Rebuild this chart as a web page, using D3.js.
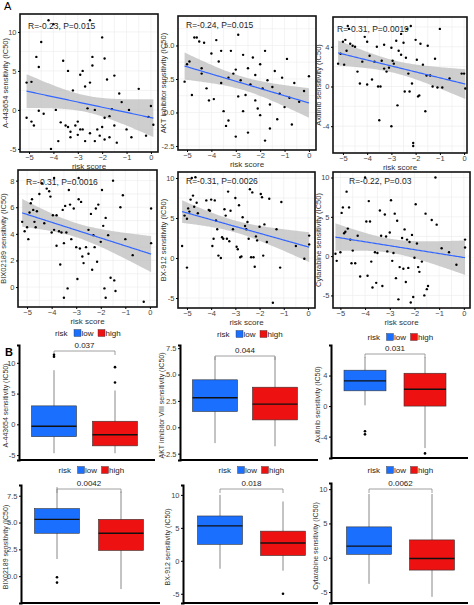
<!DOCTYPE html>
<html><head><meta charset="utf-8">
<script src="https://cdn.jsdelivr.net/npm/d3@7"></script>
<style>body{margin:0;background:#fff}svg{font-family:"Liberation Sans",Arial,sans-serif}</style>
</head><body><svg id="c" width="474" height="605"></svg>
<script>
// ---------- DATA ----------
const scatterDrugs = ["A-443654","AKT inhibitor","Axitinib","BIX02189","BX-912","Cytarabine"];
const scatterStats = ["R=-0.23, P=0.015","R=-0.24, P=0.015","R=-0.31, P=0.0019","R=-0.31, P=0.0016","R=-0.31, P=0.0026","R=-0.22, P=0.03"];
const xTicks = [-5,-4,-3,-2,-1,0];
const yTicksA = [[-5,0,5,10],[-2.5,0,2.5,5],[-4,0,4],[0,2,4,6,8],[-5,0,5,10],[-5,0,5,10]];
const ptsA1 = [[-5.1,3.5],[-4.9,3.6],[-5.1,-1],[-4.9,-1.5],[-4.8,-2],[-4.7,6.8],[-4.6,5.5],[-4.5,8.7],[-4.4,-0.5],[-4.6,-0.1],[-4.2,11.5],[-4,11],[-3.9,0],[-3.8,-4],[-4.1,-5],[-3.6,6.3],[-3.5,-2],[-3.4,5],[-3.4,-2.2],[-3.3,-2.8],[-3.3,-3.5],[-3.2,2.5],[-3.1,-2],[-3.0,-3.2],[-3.0,-1.5],[-2.9,4.5],[-2.8,5],[-2.8,-2.5],[-2.7,-4],[-2.7,3],[-2.6,0.2],[-2.5,11.5],[-2.5,3.5],[-2.5,-3],[-2.4,6.8],[-2.4,5.7],[-2.3,0],[-2.3,-4],[-2.2,-2.5],[-2.1,-3.3],[-2.0,9.3],[-2.0,-2.2],[-1.9,6.6],[-1.9,-1],[-1.8,3.9],[-1.7,-0.8],[-1.7,-3.5],[-1.6,0.1],[-1.5,4.4],[-1.5,-2],[-1.4,-4.2],[-1.3,2.1],[-1.2,1],[-1.0,-2.5],[-0.9,0],[-0.8,-3.5],[-0.5,2.7],[-0.2,-3.3],[0.0,0.5],[-3.7,-1.6],[-2.9,-2.5],[-1.9,-3.8],[-0.1,-0.9],[0.1,-1.9]];
const ptsA2 = [[-5.1,2.3],[-5.0,3.6],[-4.9,3.8],[-4.8,1.3],[-4.7,5.6],[-4.6,5.6],[-4.5,5.3],[-4.4,3.3],[-4.3,5.2],[-4.2,1.8],[-4.1,0.9],[-4.0,4.4],[-3.9,1],[-3.8,5.4],[-3.7,3.8],[-3.6,4.6],[-3.5,0.1],[-3.4,-1],[-3.3,2.6],[-3.3,-0.6],[-3.2,4.6],[-3.1,2.9],[-3.0,3.2],[-2.9,5.8],[-2.9,1.2],[-2.8,2.4],[-2.7,4.3],[-2.6,1.3],[-2.5,3.3],[-2.5,-1.5],[-2.4,2.1],[-2.3,4.1],[-2.2,0.9],[-2.2,2.8],[-2.1,0.3],[-2.0,3.6],[-2.0,-0.2],[-1.9,1.8],[-1.8,4.6],[-1.8,-2.1],[-1.7,2.4],[-1.6,0.6],[-1.5,1.9],[-1.4,3.1],[-1.3,-0.5],[-1.2,1.4],[-1.1,2.6],[-1.0,0.4],[-0.9,4.0],[-0.8,1.1],[-0.7,-0.9],[-0.6,2.2],[-0.4,0.8],[-0.2,1.6],[0.0,2.7],[-3.6,2.2],[-2.7,0.1],[-1.6,-1.2],[-4.4,2.9],[-3.0,-1.8]];
const ptsA3 = [[-5.2,2.3],[-5.1,3.3],[-5.0,4.5],[-4.95,2.2],[-4.9,4.7],[-4.85,3.6],[-4.8,6.1],[-4.75,5.8],[-4.7,4.3],[-4.6,4.1],[-4.5,4.0],[-4.4,1.5],[-4.3,0.3],[-4.2,2.5],[-4.1,5],[-4.0,0.2],[-4.0,4.5],[-3.9,3.1],[-3.8,0.7],[-3.7,2.5],[-3.6,4],[-3.55,0],[-3.5,-3.4],[-3.45,0],[-3.4,2.6],[-3.3,4.2],[-3.2,1.5],[-3.1,1.9],[-3.0,3.9],[-3.0,-4],[-2.95,2.6],[-2.9,2.3],[-2.8,4.6],[-2.75,-1.9],[-2.7,3.6],[-2.6,5.3],[-2.5,4.4],[-2.45,-0.5],[-2.4,2.9],[-2.35,5.8],[-2.3,1.3],[-2.25,-0.5],[-2.2,6.1],[-2.15,0.3],[-2.1,-6],[-2.1,-5.7],[-2.0,4.7],[-1.95,2.7],[-1.9,-1],[-1.85,-0.9],[-1.8,4.3],[-1.7,2.2],[-1.6,-2.5],[-1.55,1.1],[-1.5,4.1],[-1.4,1.1],[-1.3,0],[-1.2,2.8],[-1.1,-0.1],[-1.0,5.8],[-0.9,-0.1],[-0.6,0.8],[-0.1,1.3],[0.0,1.3],[0.05,-0.2],[-2.6,3.2],[-3.3,1.8]];
const ptsA4 = [[-5.2,4.9],[-5.1,4.2],[-5.0,4.5],[-4.95,3.6],[-4.9,5.6],[-4.85,6.3],[-4.8,6.6],[-4.75,5.8],[-4.7,4.9],[-4.65,4.5],[-4.6,5.7],[-4.5,7.0],[-4.4,7.8],[-4.3,4.8],[-4.2,7.4],[-4.1,7.2],[-4.05,6.8],[-4.0,4.1],[-3.95,5.4],[-3.9,4.3],[-3.9,8.2],[-3.8,5.4],[-3.8,3.1],[-3.7,4.2],[-3.65,1.7],[-3.6,4.1],[-3.55,5.8],[-3.5,3.3],[-3.5,-0.8],[-3.45,6.1],[-3.4,4.1],[-3.35,-0.1],[-3.3,7.3],[-3.25,6.2],[-3.2,3.6],[-3.1,5.9],[-3.0,3.0],[-2.95,0.6],[-2.9,8.2],[-2.9,6.6],[-2.85,2.9],[-2.8,6.4],[-2.75,2.3],[-2.7,1.8],[-2.6,3.0],[-2.5,2.5],[-2.4,5.5],[-2.35,1.3],[-2.3,3.9],[-2.25,3.0],[-2.2,5.9],[-2.15,1.9],[-2.1,6.2],[-2.0,3.4],[-1.95,7.3],[-1.9,4.6],[-1.85,-0.1],[-1.8,5.2],[-1.8,-0.8],[-1.7,3.9],[-1.6,0.7],[-1.5,8.0],[-1.45,0.5],[-1.4,-0.3],[-1.2,6.0],[-1.1,6.9],[-1.0,3.6],[-0.7,2.4],[-0.25,-1.1],[0.05,5.9],[0.05,3.3],[-2.5,4.3]];
const ptsA5 = [[-5.2,1.5],[-5.1,5.3],[-5.0,4.9],[-5.0,-1.2],[-4.95,6.2],[-4.9,5.8],[-4.85,7.3],[-4.8,10],[-4.75,7.8],[-4.7,6.4],[-4.65,10.1],[-4.6,6.9],[-4.55,5.6],[-4.2,7.2],[-4.1,6.0],[-4.05,5.9],[-4.0,7.3],[-3.95,1.5],[-3.9,2.4],[-3.85,7.2],[-3.8,4.7],[-3.75,3.6],[-3.7,0.3],[-3.6,0.0],[-3.55,2.6],[-3.5,2.4],[-3.45,6.1],[-3.4,5.3],[-3.35,2.4],[-3.3,8.3],[-3.25,2.1],[-3.2,5.9],[-3.1,3.6],[-3.0,7.5],[-2.95,1.4],[-2.9,1.1],[-2.85,6.6],[-2.8,0.1],[-2.75,0.2],[-2.7,5.1],[-2.6,4.0],[-2.55,3.6],[-2.5,4.5],[-2.45,2.4],[-2.4,8.6],[-2.35,0.1],[-2.3,8.2],[-2.25,0.1],[-2.2,-1.1],[-2.15,2.7],[-2.1,2.2],[-2.0,3.9],[-1.95,8.0],[-1.9,7.6],[-1.85,0.3],[-1.8,4.2],[-1.7,2.0],[-1.6,7.4],[-1.45,-5.6],[-1.3,3.6],[-1.15,-1.2],[-1.1,7.0],[-0.5,1.5],[-0.15,-0.1],[0.05,2.8],[0.05,1.7]];
const ptsA6 = [[-5.2,0.3],[-5.15,-0.6],[-5.0,0.5],[-4.95,5.5],[-4.9,6.2],[-4.85,2.9],[-4.8,3.1],[-4.75,8.2],[-4.7,3.5],[-4.65,6.2],[-4.6,2.1],[-4.55,-0.9],[-4.5,0.7],[-4.4,-0.9],[-4.3,2.6],[-4.2,-2.6],[-4.0,10],[-3.95,4.4],[-3.9,-2.5],[-3.85,7],[-3.8,4.4],[-3.75,-0.7],[-3.7,-4],[-3.6,0.5],[-3.55,-3.4],[-3.5,0.4],[-3.4,5.8],[-3.35,2.6],[-3.3,-3.8],[-3.2,5.3],[-3.15,2.5],[-3.1,0.6],[-3.0,3.0],[-2.95,7.1],[-2.9,-0.6],[-2.85,0.4],[-2.8,5.4],[-2.75,-2.8],[-2.7,4.5],[-2.65,-5.5],[-2.6,-1.4],[-2.5,2.3],[-2.45,-1.6],[-2.4,3.4],[-2.35,-3.3],[-2.3,2.1],[-2.25,-1.5],[-2.2,1.8],[-2.15,-5.9],[-2.1,2.7],[-2.05,-5.2],[-2.0,-0.2],[-1.95,6.6],[-1.9,1.6],[-1.85,-1.4],[-1.8,-2.0],[-1.7,-0.7],[-1.6,-5.0],[-1.55,5.4],[-1.5,-4.2],[-1.45,-3.8],[-1.3,4.6],[-1.15,10],[-1.1,4.0],[-0.9,1.0],[-0.6,0.5],[-0.3,-1.1],[0.05,2.1],[0.05,1.1]];
const scatterPts = [ptsA1,ptsA2,ptsA3,ptsA4,ptsA5,ptsA6];

const boxDrugs = ["A-443654","AKT inhibitor VIII","Axitinib","BIX02189","BX-912","Cytarabine"];
const boxP = ["0.037","0.044","0.031","0.0042","0.018","0.0062"];
const yTicksB = [[-5,0,5,10],[-2.5,0,2.5,5,7.5],[-4,0,4],[0,2.5,5,7.5],[-5,0,5,10],[-5,0,5,10]];
// [whiskerLow, q1, median, q3, whiskerHigh]
const lowStats  = [[-4.7,-2,-0.3,3,8.8],[-1.5,1.5,2.8,4.5,6.7],[0.1,2.0,3.3,4.7,6.4],[1.6,4.0,5.3,6.3,8.3],[-1.2,2.5,5.3,6.8,10],[-3.8,0.5,1.7,4.5,9.3]];
const highStats = [[-4.7,-3.5,-1.7,0.5,5.5],[-1.8,0.7,2.2,3.8,6.7],[-5.5,0,2.2,4.3,6.4],[-1.2,2.4,4.0,5.3,7.9],[-1.5,0.8,2.7,4.5,9],[-5.7,-1.8,-0.1,2.6,9.3]];
const lowOut  = [[11,11.3],[],[-3.3,-3.7],[-0.1,-0.6],[],[]];
const highOut = [[6.8,9.3],[],[-6.2],[],[-5],[]];

// ---------- LAYOUT ----------
const svg = d3.select("#c");
const sA = [
 {l:20,r:158,t:14,b:152,yd:[-5.4,12.3],xd:[-5.37,0.29]},
 {l:178,r:316,t:16,b:150,yd:[-2.8,7.2],xd:[-5.37,0.29]},
 {l:333,r:467,t:17,b:153,yd:[-6.7,7],xd:[-5.41,0.12]},
 {l:18,r:157,t:170,b:307,yd:[-1.5,8.8],xd:[-5.37,0.29]},
 {l:178,r:315,t:172,b:308,yd:[-6.25,10.75],xd:[-5.37,0.29]},
 {l:333,r:470,t:172,b:308,yd:[-6.6,10.7],xd:[-5.3,0.25]}
];
svg.append("text").attr("x",4).attr("y",10).attr("font-size",11).text("A");
svg.append("text").attr("x",5).attr("y",356).attr("font-size",11).attr("font-weight","bold").text("B");

sA.forEach((p,i)=>{
  const x=d3.scaleLinear().domain(p.xd).range([p.l,p.r]);
  const y=d3.scaleLinear().domain(p.yd).range([p.b,p.t]);
  const g=svg.append("g");
  g.append("rect").attr("x",p.l).attr("y",p.t).attr("width",p.r-p.l).attr("height",p.b-p.t).attr("fill","#fff");
  const minor=d3.range(-5,0.01,0.5);
  g.selectAll(".gx").data(minor).join("line").attr("x1",d=>x(d)).attr("x2",d=>x(d)).attr("y1",p.t).attr("y2",p.b).attr("stroke","#ebebeb").attr("stroke-width",0.6);
  const yt=yTicksA[i]; const st=yt[1]-yt[0];
  const ym=d3.range(Math.ceil(p.yd[0]/(st/2))*(st/2),p.yd[1],st/2);
  g.selectAll(".gy").data(ym).join("line").attr("y1",d=>y(d)).attr("y2",d=>y(d)).attr("x1",p.l).attr("x2",p.r).attr("stroke","#ebebeb").attr("stroke-width",0.6);
  const pts=scatterPts[i], n=pts.length;
  const mx=d3.mean(pts,d=>d[0]), my=d3.mean(pts,d=>d[1]);
  const sxx=d3.sum(pts,d=>(d[0]-mx)**2), sxy=d3.sum(pts,d=>(d[0]-mx)*(d[1]-my));
  const b=sxy/sxx, a=my-b*mx;
  const s=Math.sqrt(d3.sum(pts,d=>(d[1]-a-b*d[0])**2)/(n-2));
  const xs=d3.range(d3.min(pts,d=>d[0]),d3.max(pts,d=>d[0])+0.001,0.05);
  const band=xs.map(v=>{const se=1.99*s*Math.sqrt(1/n+(v-mx)**2/sxx);return [v,a+b*v-se,a+b*v+se];});
  g.append("path").attr("d",d3.area().x(d=>x(d[0])).y0(d=>y(d[1])).y1(d=>y(d[2]))(band)).attr("fill","#bdbdbd").attr("opacity",0.75);
  g.selectAll(".pt").data(pts).join("circle").attr("cx",d=>x(d[0])).attr("cy",d=>y(d[1])).attr("r",1.2).attr("fill","#000");
  g.append("path").attr("d",d3.line().x(d=>x(d[0])).y(d=>y(a+b*d[0]))(band)).attr("stroke","#3366ff").attr("stroke-width",1.2).attr("fill","none");
  g.append("rect").attr("x",p.l).attr("y",p.t).attr("width",p.r-p.l).attr("height",p.b-p.t).attr("fill","none").attr("stroke","#111").attr("stroke-width",1.6);
  g.append("text").attr("x",p.l+(i==2?4:i==5?16:8)).attr("y",p.t+(i==2?15:i==0||i==3?15:12)).attr("font-size",8.5).attr("fill","#222").text(scatterStats[i]);
  const xa=g.append("g").attr("transform",`translate(0,${p.b})`).call(d3.axisBottom(x).tickValues(xTicks).tickSize(2).tickPadding(1).tickFormat(d3.format("d")));
  const ya=g.append("g").attr("transform",`translate(${p.l},0)`).call(d3.axisLeft(y).tickValues(yt).tickSize(2).tickPadding(1.5).tickFormat(d=>i==1?d.toFixed(1):d));
  [xa,ya].forEach(ax=>{ax.select(".domain").remove();ax.selectAll("text").attr("font-size",7.5).attr("fill","#444").attr("font-family","Liberation Sans");});
  g.append("text").attr("x",(p.l+p.r)/2).attr("y",p.b+17).attr("text-anchor","middle").attr("font-size",8).attr("fill","#333").text("risk score");
  g.append("text").attr("transform",`translate(${p.l-12},${(p.t+p.b)/2}) rotate(-90)`).attr("text-anchor","middle").attr("font-size",7.5).attr("fill","#333").text(scatterDrugs[i]+" sensitivity (IC50)");
});

// ---------- BOX PLOTS ----------
const bL = [
 {ax:19,r:155,t:345,b:460,c1:54,c2:115,w:45,yd:[-5.8,12.9],br:351,lg:333},
 {ax:180,r:318,t:345,b:460,c1:215,c2:275,w:45,yd:[-3.1,7.8],br:356,lg:334},
 {ax:331,r:468,t:345,b:458,c1:365,c2:425,w:42,yd:[-6.8,8.0],br:354,lg:337},
 {ax:21,r:160,t:485,b:603,c1:57,c2:121,w:45,yd:[-2.5,8.5],br:489,lg:470},
 {ax:183,r:318,t:485,b:603,c1:220,c2:283,w:45,yd:[-6.4,11.5],br:489,lg:470},
 {ax:331,r:468,t:483,b:603,c1:369,c2:432,w:45,yd:[-6.6,10.9],br:489,lg:470}
];
bL.forEach((p,i)=>{
  const y=d3.scaleLinear().domain(p.yd).range([p.b,p.t]);
  const g=svg.append("g");
  const lx=(p.ax+p.r)/2-32;
  g.append("text").attr("x",lx).attr("y",p.lg+3).attr("font-size",8).attr("fill","#222").text("risk");
  [["low","#1a6fff"],["high","#ee1111"]].forEach((d,k)=>{
    const ox=lx+19+k*24;
    g.append("rect").attr("x",ox).attr("y",p.lg-3.5).attr("width",7).attr("height",7).attr("fill",d[1]).attr("stroke","#333").attr("stroke-width",0.4);
    g.append("text").attr("x",ox+7.5).attr("y",p.lg+3).attr("font-size",8).attr("fill","#222").text(d[0]);
  });
  g.append("path").attr("d",`M${p.c1},${p.br+4}V${p.br}H${p.c2}V${p.br+4}`).attr("fill","none").attr("stroke","#888").attr("stroke-width",0.8);
  g.append("text").attr("x",(p.c1+p.c2)/2).attr("y",p.br-3).attr("text-anchor","middle").attr("font-size",8).attr("fill","#222").text(boxP[i]);
  [[p.c1,lowStats[i],lowOut[i],"#1a6fff"],[p.c2,highStats[i],highOut[i],"#ee1111"]].forEach(([c,s,o,col])=>{
    g.append("line").attr("x1",c).attr("x2",c).attr("y1",y(s[0])).attr("y2",y(s[4])).attr("stroke","#888").attr("stroke-width",1);
    g.append("rect").attr("x",c-p.w/2).attr("width",p.w).attr("y",y(s[3])).attr("height",y(s[1])-y(s[3])).attr("fill",col).attr("stroke","#333").attr("stroke-width",0.6);
    g.append("line").attr("x1",c-p.w/2).attr("x2",c+p.w/2).attr("y1",y(s[2])).attr("y2",y(s[2])).attr("stroke","#111").attr("stroke-width",1.4);
    g.selectAll(null).data(o).join("circle").attr("cx",c).attr("cy",d=>y(d)).attr("r",1.3).attr("fill","#000");
  });
  const ya=g.append("g").attr("transform",`translate(${p.ax},0)`).call(d3.axisLeft(y).tickValues(yTicksB[i]).tickSize(2).tickPadding(1.5).tickFormat(d=>(i==1||i==3)?d.toFixed(1):d));
  ya.select(".domain").attr("stroke","#000").attr("stroke-width",2);
  ya.selectAll("text").attr("font-size",7.5).attr("fill","#444").attr("font-family","Liberation Sans");
  g.append("line").attr("x1",p.ax).attr("x2",p.r).attr("y1",p.b).attr("y2",p.b).attr("stroke","#000").attr("stroke-width",2.2);
  const off = (i==1||i==3)?16:(i==0||i==4||i==5)?13:11;
  g.append("text").attr("transform",`translate(${Math.max(p.ax-off,8)},${(p.t+p.b)/2+3}) rotate(-90)`).attr("text-anchor","middle").attr("font-size",7).attr("fill","#333").text(boxDrugs[i]+" sensitivity (IC50)");
});
</script></body></html>
